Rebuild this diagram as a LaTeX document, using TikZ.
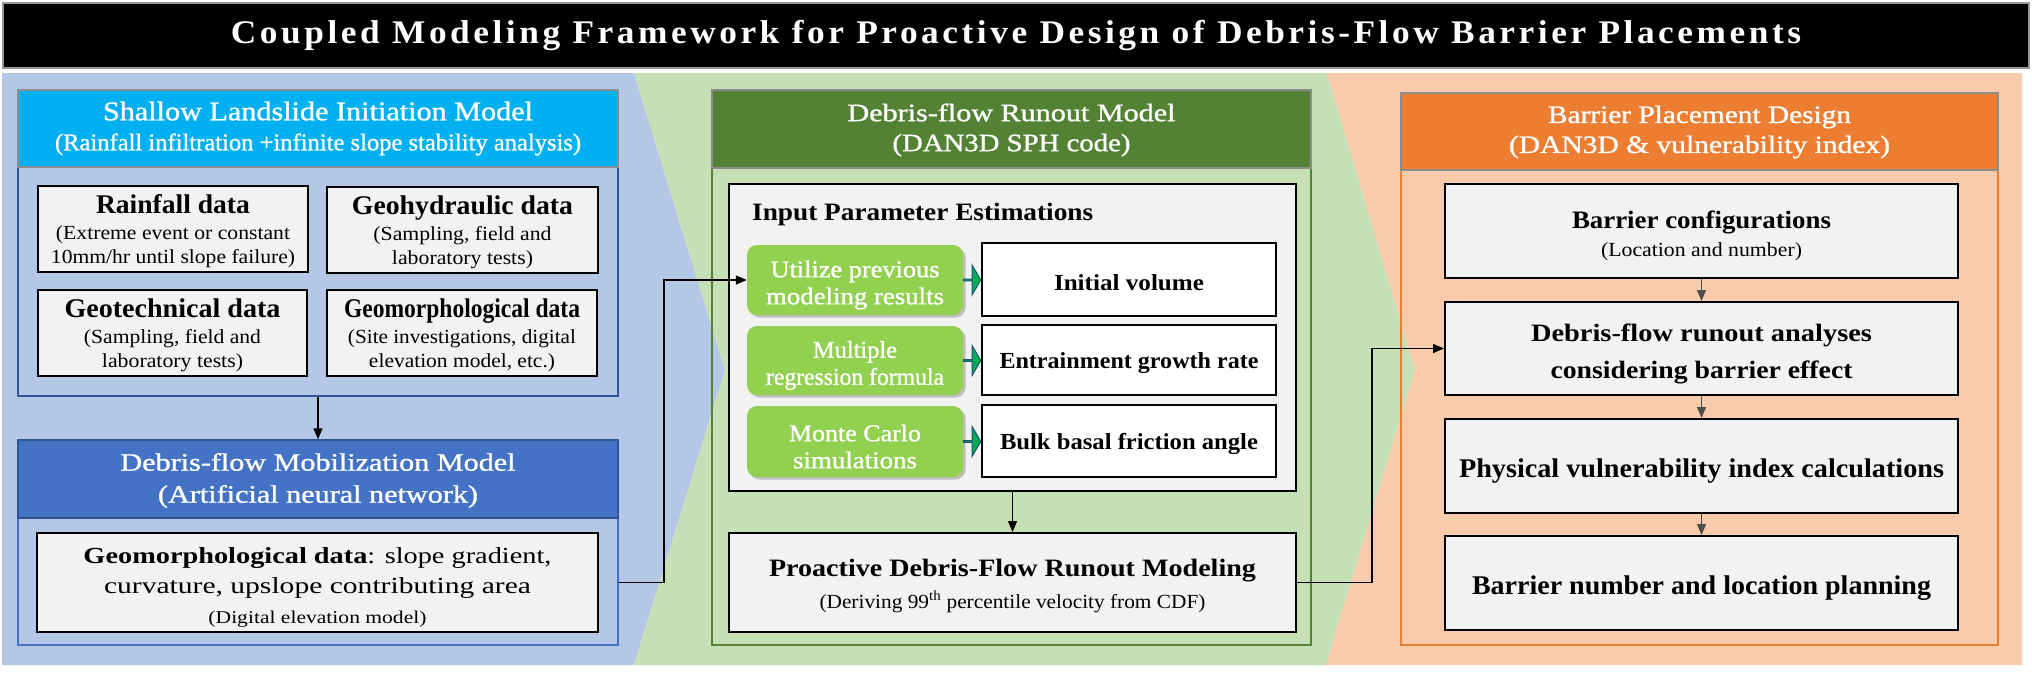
\documentclass[tikz,border=0pt]{standalone}
\usepackage{fontspec}
\setmainfont{Liberation Serif}
\usepackage{graphicx}
\usetikzlibrary{arrows.meta,shapes.arrows,shadows,calc}
\definecolor{bgblue}{HTML}{B4C7E7}
\definecolor{bggreen}{HTML}{C5E0B4}
\definecolor{bgorange}{HTML}{F8CBAD}
\definecolor{hcyan}{HTML}{00B0F0}
\definecolor{hblue}{HTML}{4472C4}
\definecolor{hgreen}{HTML}{548235}
\definecolor{horange}{HTML}{ED7D31}
\definecolor{gbox}{HTML}{92D050}
\definecolor{grayf}{HTML}{F2F2F2}
\definecolor{darkblue}{HTML}{2F5597}
\definecolor{arrg}{HTML}{00B050}
\definecolor{arrb}{HTML}{1F4E79}
\newcommand\tl[2]{\resizebox{#1pt}{\height}{#2}}
\tikzset{
 cont/.style={draw, line width=1.5pt, inner sep=0pt},
 hdr/.style={draw=black!45, line width=1.3pt, inner sep=0pt},
 htxt/.style={inner sep=0pt, align=center, text=white, font=\fontsize{25}{30}\selectfont\addfontfeature{FakeBold=1}},
 gbx/.style={fill=grayf, draw=black, line width=2pt, inner sep=0pt},
 wbx/.style={fill=white, draw=black, line width=2pt, inner sep=0pt},
 txt/.style={inner sep=0pt, align=center, font=\fontsize{20}{24}\selectfont},
 btxt/.style={inner sep=0pt, align=center, font=\fontsize{25}{30}\selectfont\bfseries},
 grn/.style={fill=gbox, rounded corners=10pt, inner sep=0pt, minimum width=216pt, drop shadow={shadow xshift=2.5pt, shadow yshift=-2.5pt, fill=black!45}},
 gtxt/.style={inner sep=0pt, align=center, text=white, font=\fontsize{24}{27}\selectfont\addfontfeature{FakeBold=1}},
 minar/.style={single arrow, single arrow head extend=9pt, single arrow tip angle=120, fill=arrg, draw=arrb, line width=1pt, minimum width=30pt, minimum height=17pt, inner sep=0pt},
 conn/.style={draw=black, line width=1.3pt, -{Triangle[length=11pt,width=9pt]}},
}
\begin{document}
\begin{tikzpicture}[x=1pt,y=-1pt]
\useasboundingbox (0,0) rectangle (2032,681);
\fill[white] (0,0) rectangle (2032,681);
% background panels
\fill[bgblue] (2,73) -- (634,73) -- (725,370) -- (634,665) -- (2,665) -- cycle;
\fill[bggreen] (634,73) -- (1327,73) -- (1415,370) -- (1326,665) -- (634,665) -- (725,370) -- cycle;
\fill[bgorange] (1327,73) -- (2022,73) -- (2022,665) -- (1326,665) -- (1415,370) -- cycle;
% title
\node[fill=black, draw=black!40, line width=1.5pt, minimum width=2026pt, minimum height=65pt, inner sep=0pt, text=white,
  font=\fontsize{33}{36}\selectfont\bfseries\addfontfeature{LetterSpace=10}] (title) at (1016,35.5)
  {\tl{1570}{Coupled Modeling Framework for Proactive Design of Debris-Flow Barrier Placements}};

% ---------- left column ----------
\node[cont, draw=darkblue, minimum width=600pt, minimum height=306pt] (ltc) at (318,243) {};
\node[hdr, fill=hcyan, minimum width=600pt, minimum height=77pt] (lth) at (318,128.5) {};
\node[htxt] (lthT) at (lth.center)
  {{\fontsize{27}{30}\selectfont\tl{430}{Shallow Landslide Initiation Model}}\\
   {\fontsize{24}{30}\selectfont\tl{526}{(Rainfall infiltration +infinite slope stability analysis)}}};

\node[gbx, minimum width=270pt, minimum height=86pt] (rain) at (173,229) {};
\node[txt] (rainT) at ($(rain.center)+(0,2.5)$)
  {{\fontsize{27}{24}\selectfont\bfseries\tl{154}{Rainfall data}}\\[2pt]
   \tl{234}{(Extreme event or constant}\\ \tl{244}{10mm/hr until slope failure)}};
\node[gbx, minimum width=271pt, minimum height=86pt] (geoh) at (462.5,230) {};
\node[txt] (geohT) at ($(geoh.center)+(0,2.5)$)
  {{\fontsize{27}{24}\selectfont\bfseries\tl{221}{Geohydraulic data}}\\[2pt]
   \tl{178}{(Sampling, field and}\\ \tl{141}{laboratory tests)}};
\node[gbx, minimum width=269pt, minimum height=86pt] (geot) at (172.5,333) {};
\node[txt] (geotT) at ($(geot.center)+(0,2.5)$)
  {{\fontsize{27}{24}\selectfont\bfseries\tl{216}{Geotechnical data}}\\[2pt]
   \tl{177}{(Sampling, field and}\\ \tl{141}{laboratory tests)}};
\node[gbx, minimum width=270pt, minimum height=86pt] (geom) at (462,333) {};
\node[txt] (geomT) at ($(geom.center)+(0,2.5)$)
  {{\fontsize{27}{24}\selectfont\bfseries\tl{236}{Geomorphological data}}\\[2pt]
   \tl{228}{(Site investigations, digital}\\ \tl{186}{elevation model, etc.)}};

\node[cont, draw=hblue, minimum width=600pt, minimum height=205pt] (lbc) at (318,542.5) {};
\node[hdr, fill=hblue, draw=darkblue, minimum width=600pt, minimum height=78pt] (lbh) at (318,479) {};
\node[htxt, font=\fontsize{25}{32}\selectfont\addfontfeature{FakeBold=1}] (lbhT) at ($(lbh.center)+(0,1.5)$)
  {\tl{395}{Debris-flow Mobilization Model}\\ \tl{320}{(Artificial neural network)}};
\node[gbx, minimum width=561pt, minimum height=99pt] (ann) at (317.5,582.5) {};
\node[txt, font=\fontsize{23}{30}\selectfont] (annT) at ($(ann.center)+(0,5)$)
  {\tl{468}{{\bfseries Geomorphological data}: slope gradient,}\\
   \tl{427}{curvature, upslope contributing area}\\
   {\fontsize{18}{30}\selectfont\tl{218}{(Digital elevation model)}}};

% ---------- middle column ----------
\node[cont, draw=hgreen, minimum width=599pt, minimum height=555pt] (mc) at (1011.5,367.5) {};
\node[hdr, fill=hgreen, minimum width=599pt, minimum height=78pt] (mh) at (1011.5,129) {};
\node[htxt] (mhT) at ($(mh.center)+(0,1)$)
  {\tl{328}{Debris-flow Runout Model}\\ \tl{238}{(DAN3D SPH code)}};
\node[gbx, minimum width=567pt, minimum height=307pt] (inp) at (1012.5,337.5) {};
\node[anchor=base west, inner sep=0pt, font=\fontsize{25}{28}\selectfont\bfseries] (ipe) at (752,220)
  {\tl{341}{Input Parameter Estimations}};
\node[grn, minimum height=70pt] (util) at (855,280) {};
\node[gtxt] (utilT) at ($(util.center)+(0,5)$) {\tl{169}{Utilize previous}\\ \tl{178}{modeling results}};
\node[grn, minimum height=69pt] (multi) at (855,360.5) {};
\node[gtxt] (multiT) at ($(multi.center)+(0,5)$) {\tl{84}{Multiple}\\ \tl{178}{regression formula}};
\node[grn, minimum height=71pt] (monte) at (855,441.5) {};
\node[gtxt] (monteT) at ($(monte.center)+(0,5)$) {\tl{132}{Monte Carlo}\\ \tl{124}{simulations}};
\node[wbx, minimum width=294pt, minimum height=73pt] (iv) at (1129,279.5) {};
\node[btxt, font=\fontsize{23}{28}\selectfont\bfseries] (ivT) at ($(iv.center)+(0,3)$) {\tl{150}{Initial volume}};
\node[wbx, minimum width=294pt, minimum height=70pt] (eg) at (1129,360) {};
\node[btxt, font=\fontsize{23}{28}\selectfont\bfseries] (egT) at ($(eg.center)+(0,3)$) {\tl{259}{Entrainment growth rate}};
\node[wbx, minimum width=294pt, minimum height=72pt] (bb) at (1129,441) {};
\node[btxt, font=\fontsize{23}{28}\selectfont\bfseries] (bbT) at ($(bb.center)+(0,3)$) {\tl{258}{Bulk basal friction angle}};
\node[minar] (ar1) at (972,280) {};
\node[minar] (ar2) at (972,360.5) {};
\node[minar] (ar3) at (972,441.5) {};
\node[gbx, minimum width=567pt, minimum height=99pt] (pro) at (1012.5,582.5) {};
\node[txt, font=\fontsize{20}{32}\selectfont] (proT) at ($(pro.center)+(0,3.5)$)
  {{\fontsize{25}{32}\selectfont\bfseries\tl{487}{Proactive Debris-Flow Runout Modeling}}\\
   \tl{386}{(Deriving 99\textsuperscript{th} percentile velocity from CDF)}};

% ---------- right column ----------
\node[cont, draw=horange, minimum width=597pt, minimum height=552pt] (rc) at (1699.5,369) {};
\node[hdr, fill=horange, minimum width=597pt, minimum height=77pt] (rh) at (1699.5,131.5) {};
\node[htxt] (rhT) at ($(rh.center)+(0,0.5)$)
  {\tl{303}{Barrier Placement Design}\\ \tl{381}{(DAN3D \& vulnerability index)}};
\node[gbx, minimum width=513pt, minimum height=94pt] (rb1) at (1701.5,231) {};
\node[txt, font=\fontsize{20}{28}\selectfont] (rb1T) at ($(rb1.center)+(0,5)$)
  {{\fontsize{25}{28}\selectfont\bfseries\tl{259}{Barrier configurations}}\\
   \tl{201}{(Location and number)}};
\node[gbx, minimum width=513pt, minimum height=93pt] (rb2) at (1701.5,348.5) {};
\node[btxt, font=\fontsize{25}{37}\selectfont\bfseries] (rb2T) at ($(rb2.center)+(0,5)$)
  {\tl{341}{Debris-flow runout analyses}\\ \tl{302}{considering barrier effect}};
\node[gbx, minimum width=513pt, minimum height=94pt] (rb3) at (1701.5,466) {};
\node[btxt, font=\fontsize{27}{30}\selectfont\bfseries] (rb3T) at ($(rb3.center)+(0,5)$)
  {\tl{485}{Physical vulnerability index calculations}};
\node[gbx, minimum width=513pt, minimum height=94pt] (rb4) at (1701.5,583) {};
\node[btxt, font=\fontsize{27}{30}\selectfont\bfseries] (rb4T) at ($(rb4.center)+(0,5)$)
  {\tl{459}{Barrier number and location planning}};

% ---------- connectors ----------
\coordinate (j1) at (664,0);
\coordinate (j2) at (1372,0);
\draw[conn] (ltc.south) -- (lbc.north);
\draw[conn] (ann.east -| lbc.east) -- (ann.east -| j1) -- (util.west -| j1) -- (util.west);
\draw[conn] (inp.south) -- (pro.north);
\draw[conn] (pro.east) -- (pro.east -| j2) -- (rb2.west -| j2) -- (rb2.west);
\draw[conn, draw=black!70] (rb1.south) -- (rb2.north);
\draw[conn, draw=black!70] (rb2.south) -- (rb3.north);
\draw[conn, draw=black!70] (rb3.south) -- (rb4.north);
\end{tikzpicture}
\end{document}
